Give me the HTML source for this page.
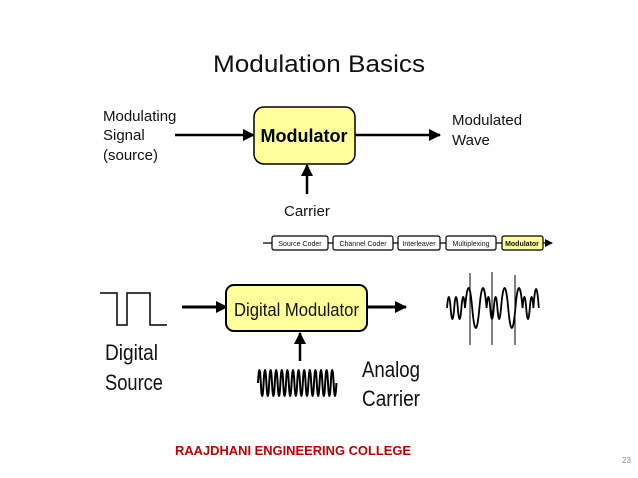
<!DOCTYPE html>
<html><head><style>body{margin:0;background:#fff}svg{display:block}</style></head><body>
<svg width="638" height="478" viewBox="0 0 638 478" xmlns="http://www.w3.org/2000/svg" font-family="Liberation Sans, sans-serif">
<defs><marker id="a" markerWidth="8" markerHeight="8" refX="7" refY="4" orient="auto" markerUnits="userSpaceOnUse"><path d="M0,0 L8,4 L0,8z" fill="#000"/></marker>
<marker id="b" markerWidth="12" markerHeight="12" refX="11" refY="6" orient="auto" markerUnits="userSpaceOnUse"><path d="M0,0 L12,6 L0,12z" fill="#000"/></marker></defs>
<text x="319" y="72" font-size="24" text-anchor="middle" fill="#111" textLength="212" lengthAdjust="spacingAndGlyphs">Modulation Basics</text>
<g font-size="15" fill="#111">
<text x="103" y="121">Modulating</text><text x="103" y="140">Signal</text><text x="103" y="160">(source)</text>
<text x="452" y="125">Modulated</text><text x="452" y="145">Wave</text>
<text x="284" y="216">Carrier</text></g>
<line x1="175" y1="135" x2="254" y2="135" stroke="#000" stroke-width="2.5" marker-end="url(#b)"/>
<rect x="254" y="107" width="101" height="57" rx="10" fill="#ffff99" stroke="#000" stroke-width="1.5"/>
<text x="304" y="142" font-size="18" font-weight="bold" text-anchor="middle">Modulator</text>
<line x1="355" y1="135" x2="440" y2="135" stroke="#000" stroke-width="2.5" marker-end="url(#b)"/>
<line x1="307" y1="194" x2="307" y2="165" stroke="#000" stroke-width="2.5" marker-end="url(#b)"/>
<g stroke="#000" stroke-width="1.2" font-size="7">
<line x1="263" y1="243" x2="552" y2="243" marker-end="url(#a)"/>
<rect x="272" y="236" width="56" height="14" rx="2" fill="#fff"/>
<rect x="333" y="236" width="60" height="14" rx="2" fill="#fff"/>
<rect x="398" y="236" width="42" height="14" rx="2" fill="#fff"/>
<rect x="446" y="236" width="50" height="14" rx="2" fill="#fff"/>
<rect x="502" y="236" width="41" height="14" rx="2" fill="#ffff99"/>
</g>
<g font-size="7" text-anchor="middle" fill="#111">
<text x="300" y="246">Source Coder</text><text x="363" y="246">Channel Coder</text><text x="419" y="246">Interleaver</text><text x="471" y="246">Multiplexing</text><text x="522" y="246" font-weight="bold">Modulator</text></g>
<path d="M100,293 H117 V325 H127 V293 H150 V325 H167" fill="none" stroke="#000" stroke-width="1.5"/>
<line x1="182" y1="307" x2="227" y2="307" stroke="#000" stroke-width="3" marker-end="url(#b)"/>
<rect x="226" y="285" width="141" height="46" rx="8" fill="#ffff99" stroke="#000" stroke-width="2"/>
<text x="234" y="316" font-size="18" fill="#111" textLength="125" lengthAdjust="spacingAndGlyphs">Digital Modulator</text>
<line x1="367" y1="307" x2="406" y2="307" stroke="#000" stroke-width="3" marker-end="url(#b)"/>
<line x1="300" y1="361" x2="300" y2="333" stroke="#000" stroke-width="2.5" marker-end="url(#b)"/>
<path d="M258,383 q1.4,-26 2.8,0 t2.8,0 t2.8,0 t2.8,0 t2.8,0 t2.8,0 t2.8,0 t2.8,0 t2.8,0 t2.8,0 t2.8,0 t2.8,0 t2.8,0 t2.8,0 t2.8,0 t2.8,0 t2.8,0 t2.8,0 t2.8,0 t2.8,0 t2.8,0 t2.8,0 t2.8,0 t2.8,0 t2.8,0 t2.8,0 t2.8,0 t2.8,0" fill="none" stroke="#000" stroke-width="2"/>
<path transform="translate(447,0) scale(0.9,1) translate(-447,0)" d="M447,308 q2,-22 4,0 t4,0 t4,0 t4,0 t4,0 q4,-40 8,0 t8,0 t8,0 q2,-22 4,0 t4,0 t4,0 t4,0 q4,-40 8,0 t8,0 t8,0 q2,-22 4,0 t4,0 t4,0 q3,-38 6,0" fill="none" stroke="#000" stroke-width="2"/>
<g stroke="#000" stroke-width="1"><line x1="470" y1="273" x2="470" y2="345"/><line x1="492" y1="272" x2="492" y2="345"/><line x1="515" y1="275" x2="515" y2="345"/></g>
<g font-size="22" fill="#111"><text x="105" y="360" textLength="53" lengthAdjust="spacingAndGlyphs">Digital</text><text x="105" y="390" textLength="58" lengthAdjust="spacingAndGlyphs">Source</text>
<text x="362" y="377" textLength="58" lengthAdjust="spacingAndGlyphs">Analog</text><text x="362" y="406" textLength="58" lengthAdjust="spacingAndGlyphs">Carrier</text></g>
<text x="175" y="455" font-size="13" font-weight="bold" fill="#c00000" textLength="236" lengthAdjust="spacingAndGlyphs">RAAJDHANI ENGINEERING COLLEGE</text>
<text x="622" y="463" font-size="8" fill="#888">23</text>
</svg>
</body></html>
